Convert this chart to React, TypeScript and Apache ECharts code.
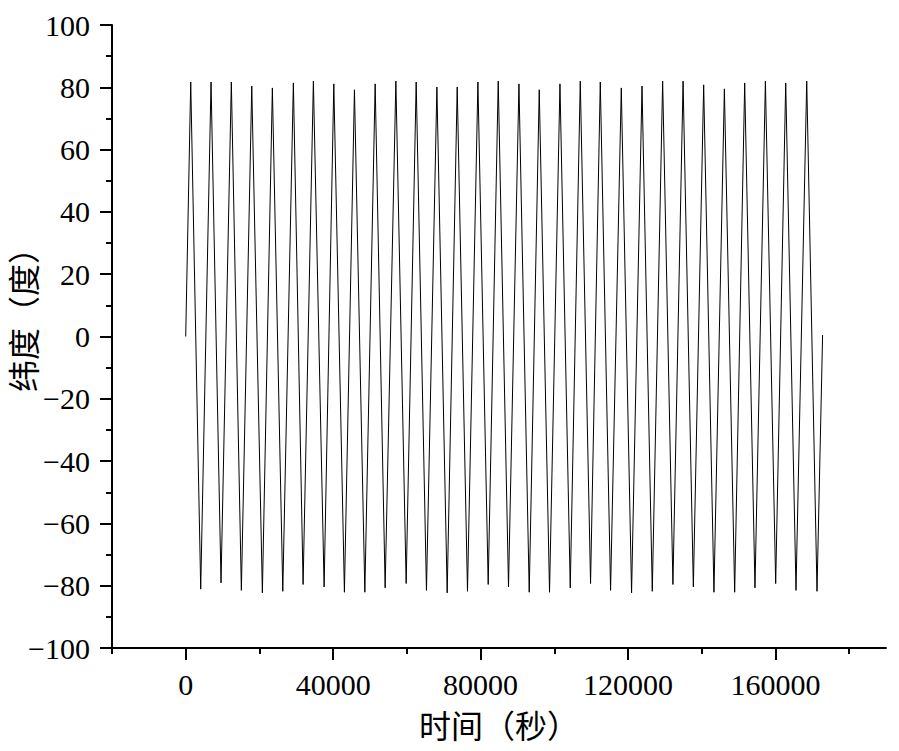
import React, { useEffect, useRef } from 'react';
import * as echarts from 'echarts';

// Latitude extremes (time in s, latitude in degrees)
const peakTimes = [1360, 6870, 12380, 17920, 23510, 29210, 34640, 40180, 45780, 51400, 57020, 62530, 68150, 73660, 79280, 84790, 90410, 95920, 101540, 107050, 112480, 118180, 123800, 129400, 134940, 140530, 146150, 151660, 157280, 162790, 168490];
const peakLats = [81.7, 81.7, 81.7, 80.4, 79.8, 81.4, 82.0, 81.1, 79.2, 81.1, 82.0, 81.7, 80.1, 80.1, 81.7, 82.0, 81.1, 79.2, 81.1, 82.0, 81.7, 79.8, 80.4, 82.0, 82.0, 80.8, 79.5, 81.4, 82.0, 81.4, 82.0];
const troughTimes = [4070, 9580, 15100, 20800, 26340, 31850, 37550, 43060, 48600, 54110, 59810, 65320, 70940, 76450, 82070, 87580, 93200, 98710, 104330, 109840, 115270, 120970, 126590, 132190, 137730, 143320, 148940, 154450, 160070, 165580, 171280];
const troughLats = [-81.1, -79.1, -81.5, -82.3, -81.8, -79.6, -80.4, -82.1, -82.1, -80.7, -79.3, -81.5, -82.3, -81.8, -79.6, -80.4, -82.1, -82.1, -80.7, -79.3, -81.5, -82.3, -81.8, -79.6, -80.4, -82.1, -82.1, -80.7, -79.3, -81.5, -81.8];
const startPoint = [0, 0];
const endPoint = [172800, 0.5];

const xMajorTicks = [0, 40000, 80000, 120000, 160000];
const xMinorTicks = [-20000, 20000, 60000, 100000, 140000, 180000];
const xMin = -20000;
const xMax = 190000;
const yMin = -100;
const yMax = 100;
const yStep = 20;

const xTitle = '时间（秒）';
const yTitle = '纬度（度）';

const FONT_NUM = 'Times New Roman';
const FONT_CJK = 'Noto Sans CJK SC';

function buildData(): number[][] {
  const d: number[][] = [startPoint];
  for (let i = 0; i < peakTimes.length; i++) {
    d.push([peakTimes[i], peakLats[i]]);
    if (i < troughTimes.length) d.push([troughTimes[i], troughLats[i]]);
  }
  d.push(endPoint);
  return d;
}

const fmt = (v: number) => String(v).replace('-', '\u2212');

export default function App() {
  const ref = useRef<HTMLDivElement>(null);
  useEffect(() => {
    document.body.style.margin = '0';
    if (!ref.current) return;
    const chart = echarts.init(ref.current, undefined, { renderer: 'svg' });
    const axisLineStyle = { color: '#000', width: 2 };
    chart.setOption({
      animation: false,
      backgroundColor: '#fff',
      grid: { left: 112, right: 13, top: 25, bottom: 103, containLabel: false, outerBoundsMode: 'none' },
      xAxis: [
        {
          type: 'value',
          position: 'bottom',
          min: xMin,
          max: xMax,
          interval: 40000,
          axisLine: { show: true, onZero: false, lineStyle: axisLineStyle },
          axisTick: { show: true, customValues: xMajorTicks, length: 12, lineStyle: axisLineStyle },
          axisLabel: {
            customValues: xMajorTicks,
            formatter: fmt,
            margin: 21,
            fontSize: 30,
            color: '#000',
            fontFamily: FONT_NUM,
          },
          splitLine: { show: false },
          name: xTitle,
          nameLocation: 'middle',
          nameGap: 60,
          nameMoveOverlap: false,
          nameTextStyle: { fontSize: 32, color: '#000', fontFamily: FONT_CJK },
        },
        {
          type: 'value',
          position: 'bottom',
          min: xMin,
          max: xMax,
          interval: 40000,
          axisLine: { show: false, onZero: false },
          axisTick: { show: true, customValues: xMinorTicks, length: 6, lineStyle: axisLineStyle },
          axisLabel: { show: false },
          splitLine: { show: false },
        },
      ],
      yAxis: {
        type: 'value',
        min: yMin,
        max: yMax,
        interval: yStep,
        axisLine: { show: true, onZero: false, lineStyle: axisLineStyle },
        axisTick: { show: true, length: 12, lineStyle: axisLineStyle },
        minorTick: { show: true, splitNumber: 2, length: 6, lineStyle: axisLineStyle },
        axisLabel: { formatter: fmt, margin: 22, fontSize: 30, color: '#000', fontFamily: FONT_NUM },
        splitLine: { show: false },
        minorSplitLine: { show: false },
      },
      graphic: [
        {
          type: 'text',
          x: 22,
          y: 312,
          rotation: Math.PI / 2,
          style: {
            text: yTitle,
            fontSize: 32,
            fontFamily: FONT_CJK,
            fill: '#000',
            align: 'center',
            verticalAlign: 'middle',
          },
        },
      ],
      series: [
        {
          type: 'line',
          xAxisIndex: 0,
          yAxisIndex: 0,
          data: buildData(),
          symbol: 'none',
          showSymbol: false,
          lineStyle: { color: '#000', width: 1 },
        },
      ],
    });
    return () => chart.dispose();
  }, []);
  return <div ref={ref} style={{ width: 899, height: 751 }} />;
}
